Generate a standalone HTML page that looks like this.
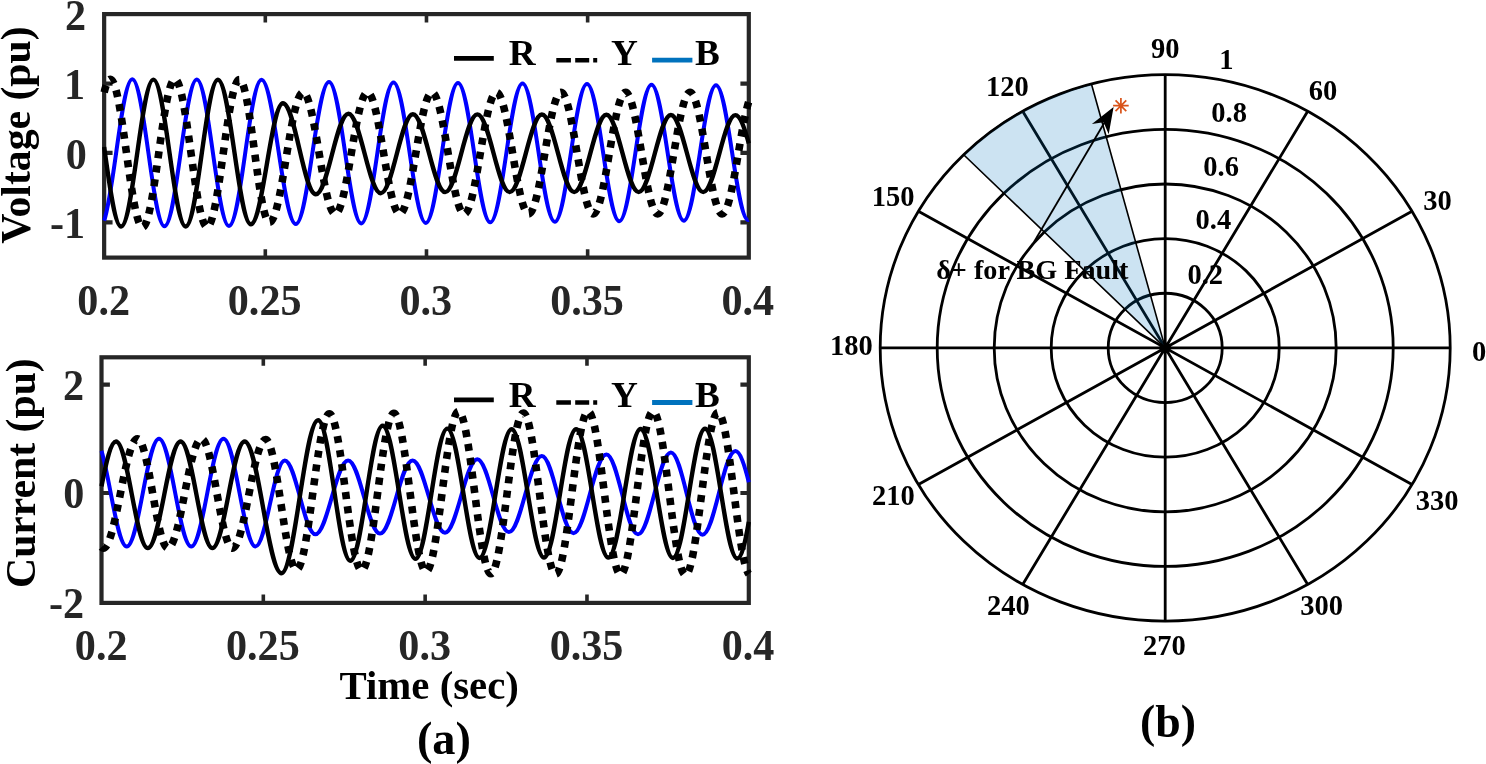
<!DOCTYPE html>
<html><head><meta charset="utf-8"><title>Figure</title>
<style>html,body{margin:0;padding:0;background:#fff;overflow:hidden}svg{display:block}</style></head>
<body>
<svg width="1486" height="764" viewBox="0 0 1486 764" font-family="'Liberation Serif', serif" font-weight="bold">
<rect width="1486" height="764" fill="#fff"/>
<defs><clipPath id="c1"><rect x="100.15" y="14.1" width="652.65" height="243.50000000000003"/></clipPath><clipPath id="c2"><rect x="97.5" y="357.3" width="655.3" height="245.59999999999997"/></clipPath></defs>
<rect x="104.15" y="14.1" width="644.65" height="243.50000000000003" fill="none" stroke="#262626" stroke-width="4.2"/><path d="M265.31 257.6v-8.4M265.31 14.1v8.4M426.48 257.6v-8.4M426.48 14.1v8.4M587.64 257.6v-8.4M587.64 14.1v8.4" stroke="#262626" stroke-width="3.6" fill="none"/><path d="M104.15 83.6h8.4M748.8 83.6h-8.4M104.15 152.9h8.4M748.8 152.9h-8.4M104.15 222.4h8.4M748.8 222.4h-8.4" stroke="#262626" stroke-width="4.2" fill="none"/>
<g clip-path="url(#c1)" fill="none" stroke-linejoin="round">
<path d="M104.15 220.60C113.93 193.04 121.96 79.20 132.30 79.20C144.03 79.20 152.77 226.25 164.50 226.25C176.26 226.25 185.04 79.50 196.80 79.50C208.53 79.50 217.27 225.95 229.00 225.95C240.84 225.95 249.66 79.80 261.50 79.80C273.99 79.80 283.31 224.00 295.80 224.00C307.89 224.00 316.91 81.88 329.00 81.88C340.75 81.88 349.50 223.44 361.25 223.44C373.00 223.44 381.75 82.44 393.50 82.44C405.25 82.44 414.00 222.89 425.75 222.89C437.50 222.89 446.25 82.99 458.00 82.99C469.75 82.99 478.50 222.34 490.25 222.34C502.00 222.34 510.75 83.54 522.50 83.54C534.25 83.54 543.00 221.78 554.75 221.78C566.50 221.78 575.25 84.09 587.00 84.09C598.75 84.09 607.50 221.23 619.25 221.23C631.00 221.23 639.75 84.65 651.50 84.65C663.25 84.65 672.00 220.68 683.75 220.68C695.50 220.68 704.25 85.20 716.00 85.20C727.75 85.20 736.50 220.12 748.25 220.12C748.43 220.12 748.62 220.09 748.80 220.03" stroke="#0000ff" stroke-width="4.0"/>
<path d="M104.15 146.96C109.55 185.60 114.91 226.50 121.10 226.50C132.86 226.50 141.64 79.60 153.40 79.60C165.16 79.60 173.94 226.50 185.70 226.50C197.43 226.50 206.17 79.80 217.90 79.80C229.92 79.80 238.88 224.30 250.90 224.30C262.55 224.30 271.25 103.30 282.90 103.30C294.88 103.30 303.82 194.30 315.80 194.30C327.67 194.30 336.53 113.70 348.40 113.70C360.20 113.70 369.00 193.20 380.80 193.20C392.49 193.20 401.21 114.20 412.90 114.20C424.66 114.20 433.44 192.10 445.20 192.10C456.93 192.10 465.67 114.38 477.40 114.38C489.16 114.38 497.94 192.10 509.70 192.10C521.43 192.10 530.17 114.56 541.90 114.56C553.66 114.56 562.44 192.10 574.20 192.10C585.93 192.10 594.67 114.74 606.40 114.74C618.16 114.74 626.94 192.10 638.70 192.10C650.43 192.10 659.17 114.93 670.90 114.93C682.66 114.93 691.44 192.10 703.20 192.10C714.93 192.10 723.67 115.11 735.40 115.11C740.23 115.11 744.56 128.10 748.80 143.42" stroke="#000" stroke-width="4.4"/>
<path d="M104.15 92.46C106.16 84.24 108.23 79.20 110.40 79.20C122.13 79.20 130.87 227.00 142.60 227.00C154.36 227.00 163.14 79.20 174.90 79.20C186.63 79.20 195.37 227.00 207.10 227.00C218.86 227.00 227.64 79.60 239.40 79.60C250.36 79.60 258.54 222.30 269.50 222.30C281.70 222.30 290.80 92.40 303.00 92.40C314.73 92.40 323.47 213.90 335.20 213.90C346.96 213.90 355.74 92.40 367.50 92.40C379.23 92.40 387.97 213.90 399.70 213.90C411.46 213.90 420.24 92.40 432.00 92.40C443.73 92.40 452.47 213.90 464.20 213.90C475.96 213.90 484.74 92.40 496.50 92.40C508.23 92.40 516.97 213.90 528.70 213.90C540.46 213.90 549.24 92.40 561.00 92.40C572.73 92.40 581.47 213.90 593.20 213.90C604.96 213.90 613.74 92.40 625.50 92.40C637.23 92.40 645.97 213.90 657.70 213.90C669.46 213.90 678.24 92.40 690.00 92.40C701.73 92.40 710.47 213.90 722.20 213.90C731.99 213.90 739.71 129.77 748.80 101.52" stroke="#000" stroke-width="7.6" stroke-dasharray="7.0 7.1"/>
</g>
<rect x="101.5" y="357.3" width="647.3" height="245.59999999999997" fill="none" stroke="#262626" stroke-width="4.2"/><path d="M263.32 602.9v-8.4M263.32 357.3v8.4M425.15 602.9v-8.4M425.15 357.3v8.4M586.97 602.9v-8.4M586.97 357.3v8.4" stroke="#262626" stroke-width="3.6" fill="none"/><path d="M101.5 384.6h8.4M748.8 384.6h-8.4M101.5 493.0h8.4M748.8 493.0h-8.4" stroke="#262626" stroke-width="4.2" fill="none"/>
<g clip-path="url(#c2)" fill="none" stroke-linejoin="round">
<path d="M101.50 450.86C110.02 478.97 117.45 546.50 126.75 546.50C138.50 546.50 147.25 438.80 159.00 438.80C170.75 438.80 179.50 546.50 191.25 546.50C203.00 546.50 211.75 438.80 223.50 438.80C235.15 438.80 243.85 546.50 255.50 546.50C266.13 546.50 274.07 460.40 284.70 460.40C295.88 460.40 304.22 534.30 315.40 534.30C327.31 534.30 336.19 460.40 348.10 460.40C359.72 460.40 368.38 533.60 380.00 533.60C391.87 533.60 400.73 460.40 412.60 460.40C424.40 460.40 433.20 532.70 445.00 532.70C456.76 532.70 465.54 459.30 477.30 459.30C488.81 459.30 497.39 532.10 508.90 532.10C520.88 532.10 529.82 456.00 541.80 456.00C553.35 456.00 561.95 533.20 573.50 533.20C585.48 533.20 594.42 454.40 606.40 454.40C617.91 454.40 626.49 534.30 638.00 534.30C649.98 534.30 658.92 452.60 670.90 452.60C682.41 452.60 690.99 534.70 702.50 534.70C714.48 534.70 723.42 451.10 735.40 451.10C740.23 451.10 744.56 465.45 748.80 482.28" stroke="#0000ff" stroke-width="4.0"/>
<path d="M101.50 486.27C106.09 462.75 110.75 441.50 116.00 441.50C127.58 441.50 136.22 548.10 147.80 548.10C159.75 548.10 168.65 441.50 180.60 441.50C192.18 441.50 200.82 548.10 212.40 548.10C224.13 548.10 232.87 441.50 244.60 441.50C258.04 441.50 268.06 573.20 281.50 573.20C294.83 573.20 304.77 420.20 318.10 420.20C329.83 420.20 338.57 560.80 350.30 560.80C362.06 560.80 370.84 425.80 382.60 425.80C394.58 425.80 403.52 558.90 415.50 558.90C427.08 558.90 435.72 428.60 447.30 428.60C459.03 428.60 467.77 558.00 479.50 558.00C491.19 558.00 499.91 429.20 511.60 429.20C523.40 429.20 532.20 557.50 544.00 557.50C555.69 557.50 564.41 429.20 576.10 429.20C587.83 429.20 596.57 557.50 608.30 557.50C620.06 557.50 628.84 429.00 640.60 429.00C652.36 429.00 661.14 558.00 672.90 558.00C684.59 558.00 693.31 428.80 705.00 428.80C716.76 428.80 725.54 558.50 737.30 558.50C741.41 558.50 745.16 542.53 748.80 521.81" stroke="#000" stroke-width="4.4"/>
<path d="M101.50 547.14C102.09 547.77 102.69 548.10 103.30 548.10C115.76 548.10 125.04 438.80 137.50 438.80C148.57 438.80 156.83 548.10 167.90 548.10C180.14 548.10 189.26 438.80 201.50 438.80C212.75 438.80 221.15 548.10 232.40 548.10C244.49 548.10 253.51 439.60 265.60 439.60C276.89 439.60 285.31 569.60 296.60 569.60C308.55 569.60 317.45 413.80 329.40 413.80C341.15 413.80 349.90 570.40 361.65 570.40C373.40 570.40 382.15 413.40 393.90 413.40C405.65 413.40 414.40 571.50 426.15 571.50C437.91 571.50 446.68 411.40 458.45 411.40C470.26 411.40 479.07 573.80 490.88 573.80C502.69 573.80 511.49 413.00 523.30 413.00C535.12 413.00 543.92 574.00 555.73 574.00C567.54 574.00 576.35 411.50 588.16 411.50C599.97 411.50 608.78 574.50 620.59 574.50C632.40 574.50 641.21 411.50 653.02 411.50C664.83 411.50 673.64 575.00 685.45 575.00C697.26 575.00 706.07 412.50 717.88 412.50C729.18 412.50 737.73 561.31 748.80 574.12" stroke="#000" stroke-width="7.6" stroke-dasharray="7.0 7.1"/>
</g>
<path d="M454 58.4H493.8" stroke="#000" stroke-width="4.6"/><path d="M556.3 60.2h14.6m4.3 0h14m4 0h4" stroke="#000" stroke-width="4.4"/><path d="M652.1 60.2H692.4" stroke="#0072bd" stroke-width="4.8"/>
<path d="M454 399.9H493.8" stroke="#000" stroke-width="4.6"/><path d="M556.3 402.5h14.6m4.3 0h14m4 0h4" stroke="#000" stroke-width="4.4"/><path d="M652.1 402.5H692.4" stroke="#0072bd" stroke-width="4.8"/>
<g fill="none" stroke="#000" stroke-width="2.8">
<ellipse cx="1165.2" cy="347.9" rx="57.00" ry="54.64"/>
<ellipse cx="1165.2" cy="347.9" rx="114.00" ry="109.28"/>
<ellipse cx="1165.2" cy="347.9" rx="171.00" ry="163.92"/>
<ellipse cx="1165.2" cy="347.9" rx="228.00" ry="218.56"/>
<ellipse cx="1165.2" cy="347.9" rx="285.00" ry="273.20"/>
<path d="M880.20 347.90L1450.20 347.90M918.38 484.50L1412.02 211.30M1022.70 584.50L1307.70 111.30M1165.20 621.10L1165.20 74.70M1307.70 584.50L1022.70 111.30M1412.02 484.50L918.38 211.30"/></g>
<path d="M1165.2 347.9L1091.44 84.01A285.0 273.2 0 0 0 963.67 154.72Z" fill="#0072bd" fill-opacity="0.2" stroke="#000" stroke-width="1.6" stroke-linejoin="round"/>
<path d="M1034 242L1104.5 122.5" stroke="#000" stroke-width="1.8" fill="none"/>
<path d="M1113.6 107.1L1091.9 123.9L1103.6 122.2L1108.7 134.2Z" fill="#000"/>
<path d="M1113.10 105.70L1128.70 105.70M1115.53 100.33L1126.27 111.07M1120.90 97.90L1120.90 113.50M1126.27 100.33L1115.53 111.07" stroke="#d95319" stroke-width="1.7" fill="none"/>
<text transform="translate(508.66,65.00) scale(1.04,1)" font-size="35.8" fill="#000">R</text>
<text transform="translate(610.95,65.00) scale(1.04,1)" font-size="35.8" fill="#000">Y</text>
<text transform="translate(694.98,65.00) scale(1.04,1)" font-size="35.8" fill="#000">B</text>
<text transform="translate(508.66,407.00) scale(1.04,1)" font-size="35.8" fill="#000">R</text>
<text transform="translate(610.95,407.00) scale(1.04,1)" font-size="35.8" fill="#000">Y</text>
<text transform="translate(694.98,407.00) scale(1.04,1)" font-size="35.8" fill="#000">B</text>
<text transform="translate(65.04,30.00) scale(0.945,1)" font-size="44.6" fill="#262626">2</text>
<text transform="translate(64.11,99.40) scale(0.945,1)" font-size="44.6" fill="#262626">1</text>
<text transform="translate(65.83,168.70) scale(0.945,1)" font-size="44.6" fill="#262626">0</text>
<text transform="translate(50.07,238.20) scale(0.945,1)" font-size="44.6" fill="#262626">-1</text>
<text transform="translate(62.94,399.80) scale(0.945,1)" font-size="44.6" fill="#262626">2</text>
<text transform="translate(63.23,508.20) scale(0.945,1)" font-size="44.6" fill="#262626">0</text>
<text transform="translate(49.00,617.50) scale(0.945,1)" font-size="44.6" fill="#262626">-2</text>
<text transform="translate(77.31,315.20) scale(0.945,1)" font-size="44.6" fill="#262626">0.2</text>
<text transform="translate(74.86,660.20) scale(0.945,1)" font-size="44.6" fill="#262626">0.2</text>
<text transform="translate(227.80,315.20) scale(0.945,1)" font-size="44.6" fill="#262626">0.25</text>
<text transform="translate(226.02,660.20) scale(0.945,1)" font-size="44.6" fill="#262626">0.25</text>
<text transform="translate(399.45,315.20) scale(0.945,1)" font-size="44.6" fill="#262626">0.3</text>
<text transform="translate(398.33,660.20) scale(0.945,1)" font-size="44.6" fill="#262626">0.3</text>
<text transform="translate(550.13,315.20) scale(0.945,1)" font-size="44.6" fill="#262626">0.35</text>
<text transform="translate(549.67,660.20) scale(0.945,1)" font-size="44.6" fill="#262626">0.35</text>
<text transform="translate(721.45,315.20) scale(0.945,1)" font-size="44.6" fill="#262626">0.4</text>
<text transform="translate(721.65,660.20) scale(0.945,1)" font-size="44.6" fill="#262626">0.4</text>
<text transform="translate(29.8,243.76) rotate(-90)" font-size="41.7">Voltage (pu)</text>
<text transform="translate(34.8,587.94) rotate(-90)" font-size="41.7">Current (pu)</text>
<text x="339.56" y="699.00" font-size="40.8" fill="#000">Time (sec)</text>
<text x="416.90" y="754.40" font-size="46.4" fill="#000">(a)</text>
<text x="1140.01" y="737.30" font-size="45.8" fill="#000">(b)</text>
<text x="1150.92" y="57.50" font-size="28.5" fill="#000">90</text>
<text x="1219.32" y="68.90" font-size="28.5" fill="#000">1</text>
<text x="1308.83" y="99.90" font-size="28.5" fill="#000">60</text>
<text x="1211.31" y="121.60" font-size="28.5" fill="#000">0.8</text>
<text x="1203.31" y="175.90" font-size="28.5" fill="#000">0.6</text>
<text x="1195.61" y="229.30" font-size="28.5" fill="#000">0.4</text>
<text x="1187.41" y="283.60" font-size="28.5" fill="#000">0.2</text>
<text x="1423.13" y="210.10" font-size="28.5" fill="#000">30</text>
<text x="1471.91" y="360.90" font-size="28.5" fill="#000">0</text>
<text x="1415.63" y="510.40" font-size="28.5" fill="#000">330</text>
<text x="1300.33" y="615.20" font-size="28.5" fill="#000">300</text>
<text x="1143.10" y="655.40" font-size="28.5" fill="#000">270</text>
<text x="987.10" y="615.20" font-size="28.5" fill="#000">240</text>
<text x="872.00" y="505.40" font-size="28.5" fill="#000">210</text>
<text x="830.12" y="354.70" font-size="28.5" fill="#000">180</text>
<text x="871.72" y="206.30" font-size="28.5" fill="#000">150</text>
<text x="986.12" y="96.00" font-size="28.5" fill="#000">120</text>
<text x="936.17" y="278.50" font-size="28.2" fill="#000">δ+ for BG Fault</text>
</svg>
</body></html>
